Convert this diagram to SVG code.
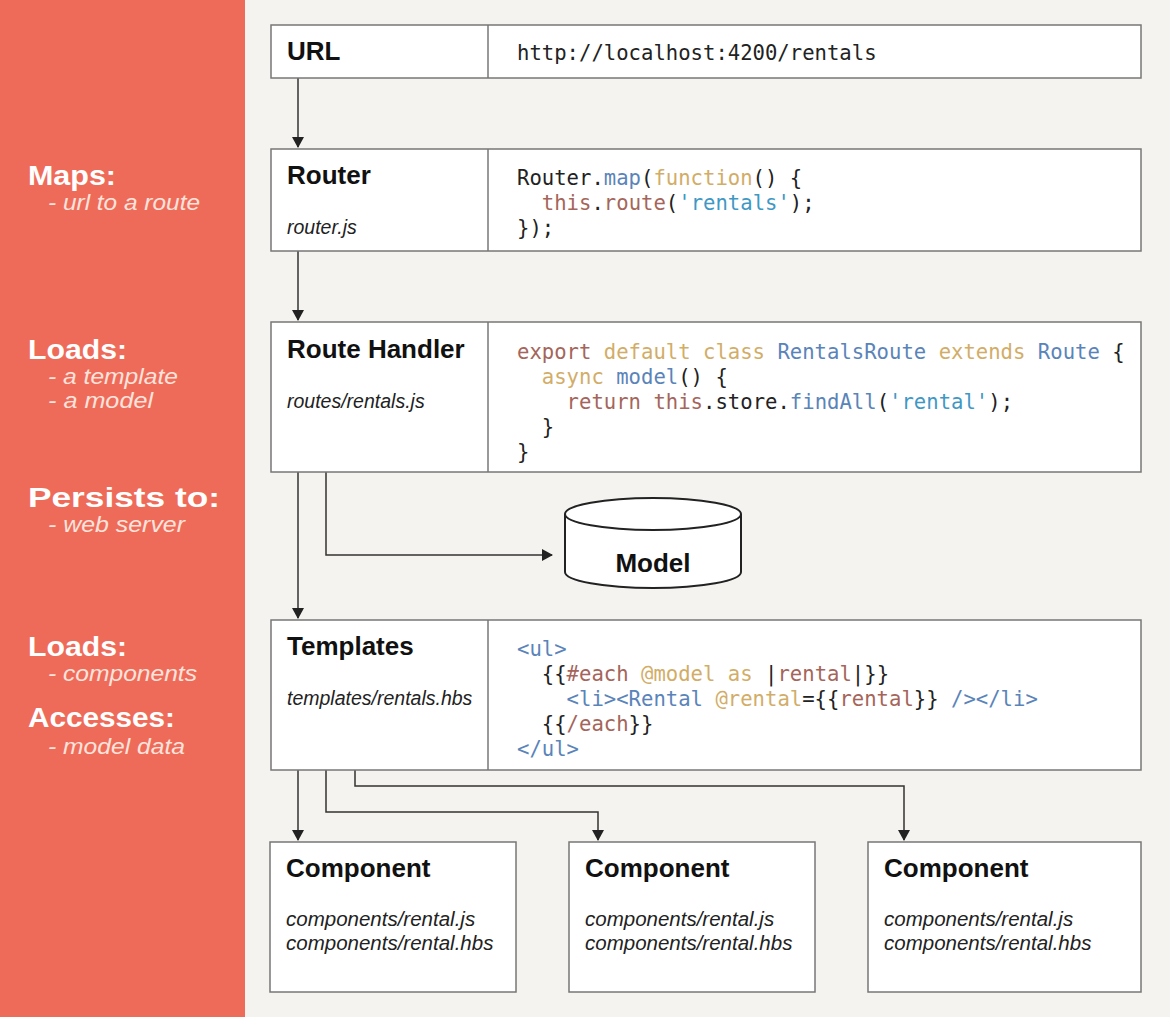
<svg xmlns="http://www.w3.org/2000/svg" width="1170" height="1017" viewBox="0 0 1170 1017">
<style>
.box{fill:#fff;stroke:#777;stroke-width:1.5}
.t{font-family:"Liberation Sans",Arial,sans-serif;font-weight:bold;font-size:26px;fill:#111}
.s{font-family:"Liberation Sans",Arial,sans-serif;font-style:italic;font-size:19.5px;fill:#222}
.s2{font-family:"Liberation Sans",Arial,sans-serif;font-style:italic;font-size:20.5px;fill:#222}
.c{font-family:"DejaVu Sans Mono",monospace;font-size:20.6px;fill:#222;white-space:pre}
.lh{font-family:"Liberation Sans",Arial,sans-serif;font-weight:bold;font-size:27px;fill:#fff}
.li{font-family:"Liberation Sans",Arial,sans-serif;font-style:italic;font-size:22px;fill:#fde3dc}
.k{fill:#a5655a}.y{fill:#d2ad68}.b{fill:#5a84b9}.q{fill:#3f98c4}
.ln{fill:none;stroke:#333;stroke-width:1.5}
</style>
<defs><marker id="a" markerWidth="12" markerHeight="12" refX="10" refY="6" orient="auto" markerUnits="userSpaceOnUse"><path d="M0,0 L11,6 L0,12 Z" fill="#222"/></marker></defs>
<rect width="1170" height="1017" fill="#f4f3ef"/>
<rect width="245" height="1017" fill="#ef6b59"/>
<g id="sidebar">
<text class="lh" x="28" y="185" textLength="88" lengthAdjust="spacingAndGlyphs">Maps:</text><text class="li" x="48" y="210" textLength="152" lengthAdjust="spacingAndGlyphs">- url to a route</text>
<text class="lh" x="28" y="359" textLength="99" lengthAdjust="spacingAndGlyphs">Loads:</text><text class="li" x="48" y="384" textLength="130" lengthAdjust="spacingAndGlyphs">- a template</text><text class="li" x="48" y="408" textLength="105" lengthAdjust="spacingAndGlyphs">- a model</text>
<text class="lh" x="28" y="507" textLength="192" lengthAdjust="spacingAndGlyphs">Persists to:</text><text class="li" x="48" y="532" textLength="137" lengthAdjust="spacingAndGlyphs">- web server</text>
<text class="lh" x="28" y="656" textLength="99" lengthAdjust="spacingAndGlyphs">Loads:</text><text class="li" x="48" y="681" textLength="149" lengthAdjust="spacingAndGlyphs">- components</text>
<text class="lh" x="28" y="727" textLength="147" lengthAdjust="spacingAndGlyphs">Accesses:</text><text class="li" x="48" y="754" textLength="137" lengthAdjust="spacingAndGlyphs">- model data</text>
</g>
<g id="connectors">
<line class="ln" x1="298" y1="78" x2="298" y2="147" marker-end="url(#a)"/>
<line class="ln" x1="298" y1="251" x2="298" y2="320" marker-end="url(#a)"/>
<line class="ln" x1="298" y1="472" x2="298" y2="618" marker-end="url(#a)"/>
<polyline class="ln" points="326,472 326,555 552,555" marker-end="url(#a)"/>
<line class="ln" x1="298" y1="770" x2="298" y2="840" marker-end="url(#a)"/>
<polyline class="ln" points="326,770 326,812 598,812 598,840" marker-end="url(#a)"/>
<polyline class="ln" points="355,770 355,786 904,786 904,840" marker-end="url(#a)"/>
</g>
<g id="url">
<rect class="box" x="271" y="25" width="870" height="53"/><line x1="488" y1="25" x2="488" y2="78" stroke="#777" stroke-width="1.5"/>
<text class="t" x="287" y="60">URL</text>
<text class="c" x="517" y="60">http://localhost:4200/rentals</text>
</g>
<g id="router">
<rect class="box" x="271" y="149" width="870" height="102"/><line x1="488" y1="149" x2="488" y2="251" stroke="#777" stroke-width="1.5"/>
<text class="t" x="287" y="184">Router</text><text class="s" x="287" y="234">router.js</text>
<text class="c" x="517" y="185">Router.<tspan class="b">map</tspan>(<tspan class="y">function</tspan>() {</text>
<text class="c" x="517" y="210">  <tspan class="k">this</tspan>.<tspan class="k">route</tspan>(<tspan class="q">'rentals'</tspan>);</text>
<text class="c" x="517" y="235">});</text>
</g>
<g id="routehandler">
<rect class="box" x="271" y="322" width="870" height="150"/><line x1="488" y1="322" x2="488" y2="472" stroke="#777" stroke-width="1.5"/>
<text class="t" x="287" y="358">Route Handler</text><text class="s" x="287" y="408">routes/rentals.js</text>
<text class="c" x="517" y="359"><tspan class="k">export</tspan> <tspan class="y">default</tspan> <tspan class="y">class</tspan> <tspan class="b">RentalsRoute</tspan> <tspan class="y">extends</tspan> <tspan class="b">Route</tspan> {</text>
<text class="c" x="517" y="384">  <tspan class="y">async</tspan> <tspan class="b">model</tspan>() {</text>
<text class="c" x="517" y="409">    <tspan class="k">return</tspan> <tspan class="k">this</tspan>.store.<tspan class="b">findAll</tspan>(<tspan class="q">'rental'</tspan>);</text>
<text class="c" x="517" y="434">  }</text>
<text class="c" x="517" y="459">}</text>
</g>
<g id="model">
<path d="M565,514 L565,572 A88,16 0 0 0 741,572 L741,514" fill="#fff" stroke="#222" stroke-width="2"/>
<ellipse cx="653" cy="514" rx="88" ry="16" fill="#fff" stroke="#222" stroke-width="2"/>
<text class="t" x="653" y="572" text-anchor="middle">Model</text>
</g>
<g id="templates">
<rect class="box" x="271" y="620" width="870" height="150"/><line x1="488" y1="620" x2="488" y2="770" stroke="#777" stroke-width="1.5"/>
<text class="t" x="287" y="655">Templates</text><text class="s" x="287" y="705">templates/rentals.hbs</text>
<text class="c" x="517" y="656"><tspan class="b">&lt;ul&gt;</tspan></text>
<text class="c" x="517" y="681">  {{<tspan class="k">#each</tspan> <tspan class="y">@model</tspan> <tspan class="y">as</tspan> |<tspan class="k">rental</tspan>|}}</text>
<text class="c" x="517" y="706">    <tspan class="b">&lt;li&gt;&lt;Rental</tspan> <tspan class="y">@rental</tspan>={{<tspan class="k">rental</tspan>}} <tspan class="b">/&gt;&lt;/li&gt;</tspan></text>
<text class="c" x="517" y="731">  {{<tspan class="k">/each</tspan>}}</text>
<text class="c" x="517" y="756"><tspan class="b">&lt;/ul&gt;</tspan></text>
</g>
<g id="component1">
<rect class="box" x="270" y="842" width="246" height="150"/>
<text class="t" x="286" y="877">Component</text>
<text class="s2" x="286" y="926">components/rental.js</text><text class="s2" x="286" y="950">components/rental.hbs</text>
</g>
<g id="component2">
<rect class="box" x="569" y="842" width="246" height="150"/>
<text class="t" x="585" y="877">Component</text>
<text class="s2" x="585" y="926">components/rental.js</text><text class="s2" x="585" y="950">components/rental.hbs</text>
</g>
<g id="component3">
<rect class="box" x="868" y="842" width="273" height="150"/>
<text class="t" x="884" y="877">Component</text>
<text class="s2" x="884" y="926">components/rental.js</text><text class="s2" x="884" y="950">components/rental.hbs</text>
</g>
</svg>
